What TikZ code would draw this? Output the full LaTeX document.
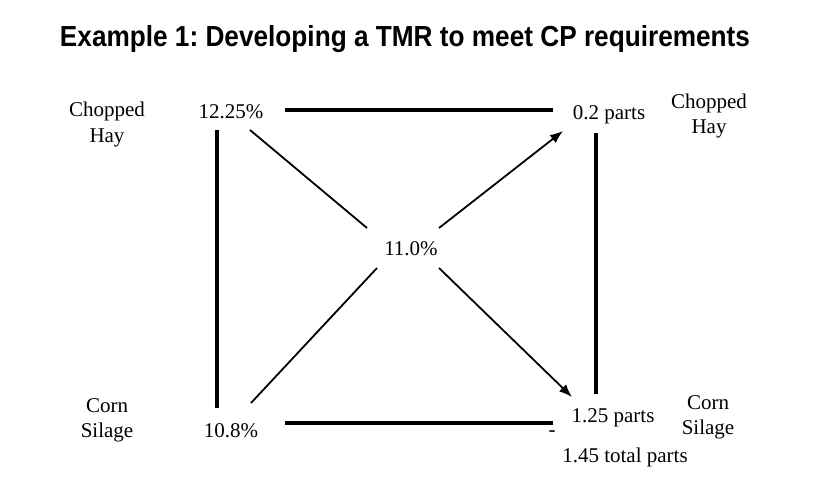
\documentclass[tikz,border=0pt]{standalone}
\usepackage{fontspec}
\setmainfont{Liberation Serif}
\setsansfont{Liberation Sans}
\usetikzlibrary{arrows.meta}
\frenchspacing
\begin{document}
\begin{tikzpicture}[x=1pt,y=-1pt,
  lbl/.style={font=\fontsize{21}{25}\selectfont, inner sep=0pt, anchor=base, align=center},
  heavy/.style={line width=4pt},
  diag/.style={line width=1.8pt},
  arr/.style={diag,-{Latex[length=13pt,width=10pt]}}]
\useasboundingbox (0,0) rectangle (818,500);
\node[inner sep=0pt, anchor=base] (title) at (405,47)
  {\resizebox{690pt}{\height}{\fontsize{29}{32}\selectfont\sffamily\bfseries Example 1: Developing a TMR to meet CP requirements}};
\node[lbl] (hayL) at (107,142) {Chopped\\Hay};
\node[lbl] (pHay) at (231,118) {12.25\%};
\node[lbl] (parts1) at (609,120) {0.2 parts};
\node[lbl] (hayR) at (709,133) {Chopped\\Hay};
\node[lbl] (mid) at (411,255) {11.0\%};
\node[lbl] (cornL) at (107,437) {Corn\\Silage};
\node[lbl] (pCorn) at (231,437) {10.8\%};
\node[lbl] (parts2) at (613,422) {1.25 parts};
\node[lbl] (cornR) at (708,434) {Corn\\Silage};
\node[lbl] (dash) at (552,436) {-};
\node[lbl] (total) at (625,462) {1.45 total parts};
% line ends
\coordinate (tL) at (285,110); \coordinate (tR) at (553,110);
\coordinate (bL) at (285,423); \coordinate (bR) at (553,423);
\coordinate (lT) at (217,130); \coordinate (lB) at (217,408);
\coordinate (rT) at (596,133); \coordinate (rB) at (596,394);
\coordinate (a1) at (250,130); \coordinate (a2) at (367,228);
\coordinate (a3) at (439,268); \coordinate (a4) at (572,397);
\coordinate (b1) at (251,403); \coordinate (b2) at (377,268);
\coordinate (b3) at (439,228); \coordinate (b4) at (563,131);
\draw[heavy] (tL) -- (tR);
\draw[heavy] (bL) -- (bR);
\draw[heavy] (lT) -- (lB);
\draw[heavy] (rT) -- (rB);
\draw[diag] (a1) -- (a2);
\draw[arr] (a3) -- (a4);
\draw[diag] (b1) -- (b2);
\draw[arr] (b3) -- (b4);
\end{tikzpicture}
\end{document}
